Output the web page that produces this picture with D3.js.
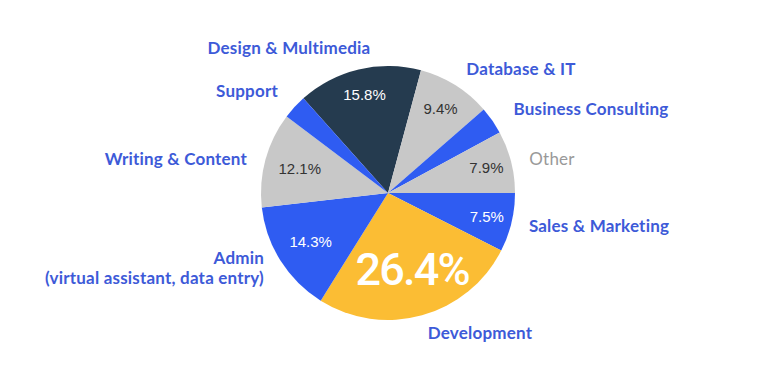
<!DOCTYPE html>
<html>
<head>
<meta charset="utf-8">
<script src="https://cdn.jsdelivr.net/npm/d3@7"></script>
<style>
  html, body { margin: 0; padding: 0; background: #ffffff; }
  svg { display: block; }
</style>
</head>
<body>
<svg id="chart" width="780" height="368"></svg>
<script>
// Data (clockwise from the top-left)
const categories = ["Design & Multimedia", "Database & IT", "Business Consulting", "Other",
  "Sales & Marketing", "Development", "Admin", "Writing & Content", "Support"];
const shares = [15.8, 9.4, 3.5, 7.9, 7.5, 26.4, 14.3, 12.1, 3.1];
const percentLabels = ["15.8%", "9.4%", "", "7.9%", "7.5%", "26.4%", "14.3%", "12.1%", ""];
const sliceColors = ["#253b4f", "#c8c8c8", "#2f5cf2", "#c8c8c8", "#2f5cf2", "#fbbd34", "#2f5cf2", "#c8c8c8", "#2f5cf2"];
const pctTextColors = ["#ffffff", "#333333", "#ffffff", "#333333", "#ffffff", "#ffffff", "#ffffff", "#333333", "#ffffff"];

const svg = d3.select("#chart");
const cx = 388, cy = 193, R = 127;
const startDeg = -41.8;
const toRad = d => d * Math.PI / 180;

const pie = d3.pie().sort(null).value(d => d)
  .startAngle(toRad(startDeg)).endAngle(toRad(startDeg + 360));
const arcs = pie(shares);
const arc = d3.arc().innerRadius(0).outerRadius(R);

const g = svg.append("g").attr("transform", `translate(${cx},${cy})`);
g.selectAll("path.slice").data(arcs).join("path")
  .attr("class", "slice")
  .attr("d", arc)
  .attr("fill", (d, i) => sliceColors[i]);

// percentage labels inside slices
const pctRadius = [0.80, 0.78, 0.7, 0.80, 0.80, 0.62, 0.72, 0.72, 0.7];
g.selectAll("text.pct").data(arcs).join("text")
  .attr("class", "pct")
  .each(function(d, i) {
    const a = (d.startAngle + d.endAngle) / 2;
    const r = R * pctRadius[i];
    const big = i === 5;
    d3.select(this)
      .attr("x", Math.sin(a) * r + (big ? 3 : 0))
      .attr("y", -Math.cos(a) * r)
      .attr("text-anchor", "middle")
      .attr("dy", "0.36em")
      .attr("fill", pctTextColors[i])
      .attr("font-family", big ? "Roboto, 'DejaVu Sans Condensed', sans-serif" : "'Liberation Sans', Arial, sans-serif")
      .attr("font-size", big ? 45 : 15)
      .attr("font-weight", big ? 500 : 400)
      .attr("letter-spacing", big ? -1.8 : 0)
      .text(percentLabels[i]);
  });

// category labels (absolute placement around the pie)
const labelPos = [
  { x: 289, y: 54, anchor: "middle" },   // Design & Multimedia
  { x: 521, y: 75, anchor: "middle" },   // Database & IT
  { x: 591, y: 115, anchor: "middle" },  // Business Consulting
  { x: 552, y: 165, anchor: "middle" },  // Other
  { x: 599, y: 232, anchor: "middle" },  // Sales & Marketing
  { x: 480, y: 339, anchor: "middle" },  // Development
  { x: 264, y: 264, anchor: "end" },     // Admin
  { x: 247, y: 165, anchor: "end" },     // Writing & Content
  { x: 247, y: 97, anchor: "middle" }    // Support
];
const subLabels = ["", "", "", "", "", "", "(virtual assistant, data entry)", "", ""];

const lg = svg.append("g");
categories.forEach((c, i) => {
  const p = labelPos[i];
  const isOther = c === "Other";
  lg.append("text")
    .attr("x", p.x).attr("y", p.y)
    .attr("text-anchor", p.anchor)
    .attr("font-family", "Lato, 'Open Sans', sans-serif")
    .attr("font-size", 17)
    .attr("font-weight", isOther ? 400 : 700)
    .attr("letter-spacing", 0.2)
    .attr("fill", isOther ? "#999999" : "#3d5ad8")
    .text(c);
  if (subLabels[i]) {
    lg.append("text")
      .attr("x", p.x).attr("y", p.y + 19.5)
      .attr("text-anchor", p.anchor)
      .attr("font-family", "Lato, 'Open Sans', sans-serif")
      .attr("font-size", 17)
      .attr("font-weight", 700)
      .attr("letter-spacing", 0.2)
      .attr("fill", "#3d5ad8")
      .text(subLabels[i]);
  }
});
</script>
</body>
</html>
